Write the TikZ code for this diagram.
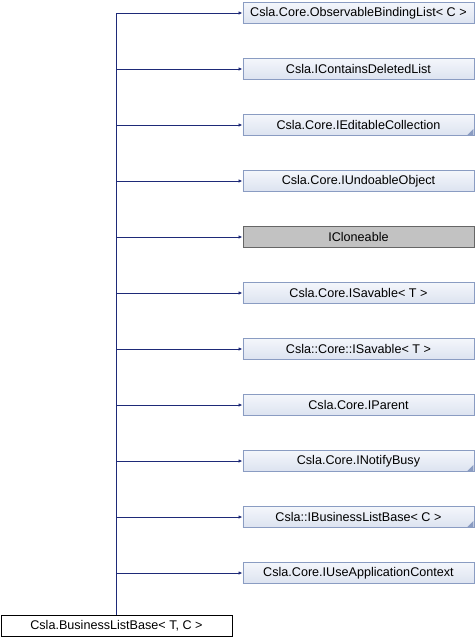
\documentclass[tikz,border=0pt]{standalone}
\usepackage{fontspec}
\setmainfont{Liberation Sans}
\usetikzlibrary{arrows.meta}
\definecolor{edgeblue}{HTML}{1E2A78}
\definecolor{boxborder}{HTML}{8A9CC2}
\definecolor{boxtop}{HTML}{F4F6FB}
\definecolor{boxbot}{HTML}{DCE3F0}
\definecolor{greyfill}{HTML}{C2C2C2}
\tikzset{
  x=1pt, y=-1pt,
  cls/.style={draw=boxborder, line width=0.9pt, top color=boxtop, bottom color=boxbot,
    minimum width=231pt, minimum height=21pt, inner sep=0pt, anchor=west,
    font=\fontsize{12.6}{14}\selectfont},
  extcls/.style={draw=black!60, line width=0.9pt, fill=greyfill,
    minimum width=231pt, minimum height=21pt, inner sep=0pt, anchor=west,
    font=\fontsize{12.6}{14}\selectfont},
  basecls/.style={draw=black, line width=0.9pt, fill=white,
    minimum width=231pt, minimum height=21pt, inner sep=0pt, anchor=west,
    font=\fontsize{12.6}{14}\selectfont},
  inh/.style={draw=edgeblue, line width=0.9pt, -{Latex[length=4pt,width=3.5pt]}},
  trunc/.style={fill=boxborder, draw=none}
}
\begin{document}
\begin{tikzpicture}
\useasboundingbox (0,0) rectangle (474,637);
\node[cls] (n1) at (242.5,13) {Csla.Core.ObservableBindingList< C >};
\node[cls] (n2) at (242.5,69) {Csla.IContainsDeletedList};
\node[cls] (n3) at (242.5,125) {Csla.Core.IEditableCollection};
\node[cls] (n4) at (242.5,181) {Csla.Core.IUndoableObject};
\node[extcls] (n5) at (242.5,237) {ICloneable};
\node[cls] (n6) at (242.5,293) {Csla.Core.ISavable< T >};
\node[cls] (n7) at (242.5,349) {Csla::Core::ISavable< T >};
\node[cls] (n8) at (242.5,405) {Csla.Core.IParent};
\node[cls] (n9) at (242.5,461) {Csla.Core.INotifyBusy};
\node[cls] (n10) at (242.5,517) {Csla::IBusinessListBase< C >};
\node[cls] (n11) at (242.5,573) {Csla.Core.IUseApplicationContext};
\node[basecls] (base) at (0.5,626) {Csla.BusinessListBase< T, C >};
% truncation markers
\foreach \n in {n3,n9,n10}{
  \fill[trunc] ([xshift=-1pt,yshift=1pt]\n.south east) -- ++(0,-6) -- ++(-6,6) -- cycle;
}
\coordinate (tr) at (116,626);
\draw[edgeblue, line width=0.9pt] (base.north -| tr) -- (116,13);
\foreach \n in {n1,n2,n3,n4,n5,n6,n7,n8,n9,n10,n11}{
  \draw[inh] (\n.west -| tr) -- (\n.west);
}
\end{tikzpicture}
\end{document}
